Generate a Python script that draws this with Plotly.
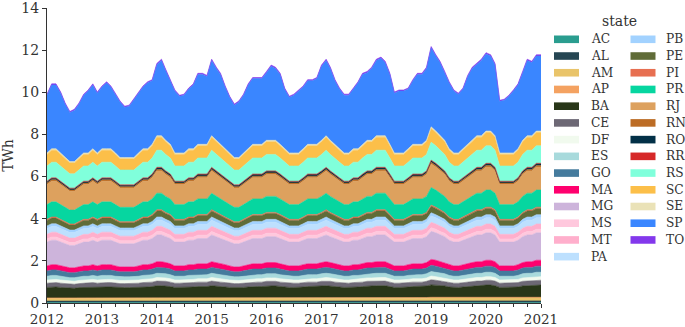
import pandas as pd
import plotly.graph_objects as go

# Monthly timestamps (Jan 2012 .. Jan 2021)
months = pd.date_range("2012-01-01", "2021-01-01", freq="MS")

states = ["AC", "AL", "AM", "AP", "BA", "CE", "DF", "ES", "GO", "MA", "MG", "MS", "MT", "PA",
          "PB", "PE", "PI", "PR", "RJ", "RN", "RO", "RR", "RS", "SC", "SE", "SP", "TO"]

colors = ["#2a9d8f", "#264653", "#e9c46a", "#f4a261", "#283618", "#6d6875", "#f1faee", "#a8dadc",
          "#457b9d", "#ff006e", "#cdb4db", "#ffc8dd", "#ffafcc", "#bde0fe", "#a2d2ff", "#606c38",
          "#e76f51", "#06d6a0", "#dda15e", "#bc6c25", "#023047", "#d62828", "#80ffdb", "#fcbf49",
          "#eae2b7", "#3a86ff", "#8338ec"]

# Consumption (TWh), one value per month
AC = [
    .02, .02, .02, .02, .02, .02, .02, .02, .02, .02, .02, .02,
    .02, .02, .02, .02, .02, .02, .02, .02, .02, .02, .02, .02,
    .02, .02, .02, .02, .02, .02, .02, .02, .02, .02, .02, .02,
    .02, .02, .02, .02, .02, .02, .02, .02, .02, .02, .02, .02,
    .02, .02, .02, .02, .02, .02, .02, .02, .02, .02, .02, .02,
    .02, .02, .02, .02, .02, .02, .02, .02, .02, .02, .02, .02,
    .02, .02, .02, .02, .02, .02, .02, .02, .02, .02, .02, .02,
    .02, .02, .02, .02, .02, .02, .02, .02, .02, .02, .02, .02,
    .02, .02, .02, .02, .02, .02, .02, .02, .02, .02, .02, .02,
    .02]
AL = [
    .07, .07, .07, .07, .07, .07, .07, .07, .07, .07, .07, .07,
    .07, .07, .07, .07, .07, .07, .07, .07, .07, .07, .07, .07,
    .08, .08, .08, .07, .07, .07, .07, .07, .07, .07, .07, .07,
    .08, .08, .07, .07, .07, .07, .07, .07, .07, .07, .07, .07,
    .08, .08, .08, .07, .07, .07, .07, .07, .07, .07, .07, .07,
    .08, .08, .08, .07, .07, .07, .07, .07, .07, .07, .08, .08,
    .08, .08, .08, .07, .07, .07, .07, .07, .07, .07, .07, .08,
    .08, .08, .08, .08, .07, .07, .07, .07, .07, .08, .08, .08,
    .08, .08, .08, .07, .07, .07, .07, .07, .08, .08, .08, .08,
    .08]
AM = [
    .12, .12, .12, .12, .12, .11, .11, .12, .12, .12, .12, .12,
    .12, .12, .12, .12, .12, .12, .12, .12, .12, .12, .12, .13,
    .13, .13, .13, .13, .12, .12, .12, .12, .12, .13, .13, .13,
    .13, .13, .13, .12, .12, .12, .12, .12, .12, .13, .13, .13,
    .13, .13, .13, .13, .12, .12, .12, .12, .12, .13, .13, .13,
    .13, .13, .13, .13, .12, .12, .12, .12, .12, .13, .13, .13,
    .13, .13, .13, .13, .12, .12, .12, .12, .13, .13, .13, .13,
    .14, .14, .13, .13, .12, .12, .12, .12, .13, .13, .13, .13,
    .14, .14, .13, .12, .12, .12, .12, .12, .13, .13, .13, .14,
    .14]
AP = [
    .03, .03, .03, .03, .03, .03, .03, .03, .03, .03, .03, .03,
    .03, .03, .03, .03, .03, .03, .03, .03, .03, .03, .03, .03,
    .03, .03, .03, .03, .03, .03, .03, .03, .03, .03, .03, .03,
    .03, .03, .03, .03, .03, .03, .03, .03, .03, .03, .03, .03,
    .03, .03, .03, .03, .03, .03, .03, .03, .03, .03, .03, .03,
    .03, .03, .03, .03, .03, .03, .03, .03, .03, .03, .03, .03,
    .03, .03, .03, .03, .03, .03, .03, .03, .03, .03, .03, .03,
    .03, .03, .03, .03, .03, .03, .03, .03, .03, .03, .03, .03,
    .03, .03, .03, .03, .03, .03, .03, .03, .03, .03, .03, .03,
    .03]
BA = [
    .50, .52, .52, .50, .49, .47, .47, .49, .50, .50, .52, .50,
    .52, .52, .52, .50, .49, .49, .49, .49, .50, .52, .52, .53,
    .56, .56, .55, .53, .50, .50, .50, .52, .52, .53, .53, .53,
    .56, .55, .53, .52, .50, .49, .49, .50, .52, .53, .53, .53,
    .55, .55, .55, .53, .52, .50, .50, .50, .52, .53, .53, .53,
    .55, .56, .55, .53, .52, .50, .50, .52, .52, .53, .55, .55,
    .56, .56, .56, .53, .50, .50, .50, .52, .53, .53, .53, .55,
    .59, .58, .56, .55, .52, .50, .50, .52, .53, .55, .56, .56,
    .58, .58, .56, .50, .50, .50, .50, .52, .55, .56, .56, .58,
    .58]
CE = [
    .20, .21, .21, .20, .19, .19, .19, .19, .20, .20, .21, .20,
    .21, .21, .21, .20, .19, .19, .19, .19, .20, .21, .21, .21,
    .22, .22, .22, .21, .20, .20, .20, .21, .21, .21, .21, .21,
    .22, .22, .21, .21, .20, .19, .19, .20, .21, .21, .21, .21,
    .22, .22, .22, .21, .21, .20, .20, .20, .21, .21, .21, .21,
    .22, .22, .22, .21, .21, .20, .20, .21, .21, .21, .22, .22,
    .22, .22, .22, .21, .20, .20, .20, .21, .21, .21, .21, .22,
    .24, .23, .22, .22, .21, .20, .20, .21, .21, .22, .22, .22,
    .23, .23, .22, .20, .20, .20, .20, .21, .22, .22, .22, .23,
    .23]
DF = [
    .15, .15, .15, .15, .15, .14, .14, .15, .15, .15, .15, .15,
    .15, .15, .15, .15, .15, .15, .15, .15, .15, .15, .15, .16,
    .17, .17, .16, .16, .15, .15, .15, .15, .15, .16, .16, .16,
    .17, .16, .16, .15, .15, .15, .15, .15, .15, .16, .16, .16,
    .16, .16, .16, .16, .15, .15, .15, .15, .15, .16, .16, .16,
    .16, .17, .16, .16, .15, .15, .15, .15, .15, .16, .16, .16,
    .17, .17, .17, .16, .15, .15, .15, .15, .16, .16, .16, .16,
    .18, .17, .17, .16, .15, .15, .15, .15, .16, .16, .17, .17,
    .17, .17, .17, .15, .15, .15, .15, .15, .16, .17, .17, .17,
    .17]
ES = [
    .18, .19, .19, .18, .17, .17, .17, .17, .18, .18, .19, .18,
    .19, .19, .19, .18, .17, .17, .17, .17, .18, .19, .19, .19,
    .20, .20, .20, .19, .18, .18, .18, .19, .19, .19, .19, .19,
    .20, .20, .19, .19, .18, .17, .17, .18, .19, .19, .19, .19,
    .20, .20, .20, .19, .19, .18, .18, .18, .19, .19, .19, .19,
    .20, .20, .20, .19, .19, .18, .18, .19, .19, .19, .20, .20,
    .20, .20, .20, .19, .18, .18, .18, .19, .19, .19, .19, .20,
    .21, .21, .20, .20, .19, .18, .18, .19, .19, .20, .20, .20,
    .21, .21, .20, .18, .18, .18, .18, .19, .20, .20, .20, .21,
    .21]
GO = [
    .25, .26, .26, .25, .24, .24, .24, .24, .25, .25, .26, .25,
    .26, .26, .26, .25, .24, .24, .24, .24, .25, .26, .26, .27,
    .28, .28, .27, .27, .25, .25, .25, .26, .26, .27, .27, .27,
    .28, .27, .27, .26, .25, .24, .24, .25, .26, .27, .27, .27,
    .27, .27, .27, .27, .26, .25, .25, .25, .26, .27, .27, .27,
    .27, .28, .27, .27, .26, .25, .25, .26, .26, .27, .27, .27,
    .28, .28, .28, .27, .25, .25, .25, .26, .27, .27, .27, .27,
    .30, .29, .28, .27, .26, .25, .25, .26, .27, .27, .28, .28,
    .29, .29, .28, .25, .25, .25, .25, .26, .27, .28, .28, .29,
    .29]
MA = [
    .24, .25, .25, .24, .23, .23, .23, .23, .24, .24, .25, .24,
    .25, .25, .25, .24, .23, .23, .23, .23, .24, .25, .25, .25,
    .27, .27, .26, .25, .24, .24, .24, .25, .25, .25, .25, .25,
    .27, .26, .25, .25, .24, .23, .23, .24, .25, .25, .25, .25,
    .26, .26, .26, .25, .25, .24, .24, .24, .25, .25, .25, .25,
    .26, .27, .26, .25, .25, .24, .24, .25, .25, .25, .26, .26,
    .27, .27, .27, .25, .24, .24, .24, .25, .25, .25, .25, .26,
    .28, .28, .27, .26, .25, .24, .24, .25, .25, .26, .27, .27,
    .28, .28, .27, .24, .24, .24, .24, .25, .26, .27, .27, .28,
    .28]
MG = [
    1.13, 1.16, 1.16, 1.13, 1.10, 1.06, 1.06, 1.10, 1.13, 1.13, 1.16, 1.13,
    1.16, 1.16, 1.16, 1.13, 1.10, 1.10, 1.10, 1.10, 1.13, 1.16, 1.16, 1.20,
    1.27, 1.27, 1.23, 1.20, 1.13, 1.13, 1.13, 1.16, 1.16, 1.20, 1.20, 1.20,
    1.27, 1.23, 1.20, 1.16, 1.13, 1.10, 1.10, 1.13, 1.16, 1.20, 1.20, 1.20,
    1.23, 1.23, 1.23, 1.20, 1.16, 1.13, 1.13, 1.13, 1.16, 1.20, 1.20, 1.20,
    1.23, 1.27, 1.23, 1.20, 1.16, 1.13, 1.13, 1.16, 1.16, 1.20, 1.23, 1.23,
    1.27, 1.27, 1.27, 1.20, 1.13, 1.13, 1.13, 1.16, 1.20, 1.20, 1.20, 1.23,
    1.33, 1.30, 1.27, 1.23, 1.16, 1.13, 1.13, 1.16, 1.20, 1.23, 1.27, 1.27,
    1.30, 1.30, 1.27, 1.13, 1.13, 1.13, 1.13, 1.16, 1.23, 1.27, 1.27, 1.30,
    1.30]
MS = [
    .15, .15, .15, .15, .15, .14, .14, .15, .15, .15, .15, .15,
    .15, .15, .15, .15, .15, .15, .15, .15, .15, .15, .15, .16,
    .16, .16, .16, .16, .15, .15, .15, .15, .15, .16, .16, .16,
    .16, .16, .16, .15, .15, .15, .15, .15, .15, .16, .16, .16,
    .16, .16, .16, .16, .15, .15, .15, .15, .15, .16, .16, .16,
    .16, .16, .16, .16, .15, .15, .15, .15, .15, .16, .16, .16,
    .16, .16, .16, .16, .15, .15, .15, .15, .16, .16, .16, .16,
    .17, .17, .16, .16, .15, .15, .15, .15, .16, .16, .16, .16,
    .17, .17, .16, .15, .15, .15, .15, .15, .16, .16, .16, .17,
    .17]
MT = [
    .22, .23, .23, .22, .21, .21, .21, .21, .22, .22, .23, .22,
    .23, .23, .23, .22, .21, .21, .21, .21, .22, .23, .23, .23,
    .25, .25, .24, .23, .22, .22, .22, .23, .23, .23, .23, .23,
    .25, .24, .23, .23, .22, .21, .21, .22, .23, .23, .23, .23,
    .24, .24, .24, .23, .23, .22, .22, .22, .23, .23, .23, .23,
    .24, .25, .24, .23, .23, .22, .22, .23, .23, .23, .24, .24,
    .25, .25, .25, .23, .22, .22, .22, .23, .23, .23, .23, .24,
    .26, .25, .25, .24, .23, .22, .22, .23, .23, .24, .25, .25,
    .25, .25, .25, .22, .22, .22, .22, .23, .24, .25, .25, .25,
    .25]
PA = [
    .27, .27, .27, .27, .26, .26, .26, .26, .27, .27, .27, .27,
    .27, .27, .27, .27, .26, .26, .26, .26, .27, .27, .27, .28,
    .29, .29, .28, .28, .27, .27, .27, .27, .27, .28, .28, .28,
    .29, .28, .28, .27, .27, .26, .26, .27, .27, .28, .28, .28,
    .28, .28, .28, .28, .27, .27, .27, .27, .27, .28, .28, .28,
    .28, .29, .28, .28, .27, .27, .27, .27, .27, .28, .28, .28,
    .29, .29, .29, .28, .27, .27, .27, .27, .28, .28, .28, .28,
    .30, .29, .29, .28, .27, .27, .27, .27, .28, .28, .29, .29,
    .29, .29, .29, .27, .27, .27, .27, .27, .28, .29, .29, .29,
    .29]
PB = [
    .13, .13, .13, .13, .13, .12, .12, .13, .13, .13, .13, .13,
    .13, .13, .13, .13, .13, .13, .13, .13, .13, .13, .13, .14,
    .15, .15, .14, .14, .13, .13, .13, .13, .13, .14, .14, .14,
    .15, .14, .14, .13, .13, .13, .13, .13, .13, .14, .14, .14,
    .14, .14, .14, .14, .13, .13, .13, .13, .13, .14, .14, .14,
    .14, .15, .14, .14, .13, .13, .13, .13, .13, .14, .14, .14,
    .15, .15, .15, .14, .13, .13, .13, .13, .14, .14, .14, .14,
    .15, .15, .15, .14, .13, .13, .13, .13, .14, .14, .15, .15,
    .15, .15, .15, .13, .13, .13, .13, .13, .14, .15, .15, .15,
    .15]
PE = [
    .26, .27, .27, .26, .25, .24, .24, .25, .26, .26, .27, .26,
    .27, .27, .27, .26, .25, .25, .25, .25, .26, .27, .27, .28,
    .29, .29, .28, .28, .26, .26, .26, .27, .27, .28, .28, .28,
    .29, .28, .28, .27, .26, .25, .25, .26, .27, .28, .28, .28,
    .28, .28, .28, .28, .27, .26, .26, .26, .27, .28, .28, .28,
    .28, .29, .28, .28, .27, .26, .26, .27, .27, .28, .28, .28,
    .29, .29, .29, .28, .26, .26, .26, .27, .28, .28, .28, .28,
    .31, .30, .29, .28, .27, .26, .26, .27, .28, .28, .29, .29,
    .30, .30, .29, .26, .26, .26, .26, .27, .28, .29, .29, .30,
    .30]
PI = [
    .05, .05, .05, .05, .05, .05, .05, .05, .05, .05, .05, .05,
    .05, .05, .05, .05, .05, .05, .05, .05, .05, .05, .05, .05,
    .06, .06, .05, .05, .05, .05, .05, .05, .05, .05, .05, .05,
    .06, .05, .05, .05, .05, .05, .05, .05, .05, .05, .05, .05,
    .05, .05, .05, .05, .05, .05, .05, .05, .05, .05, .05, .05,
    .05, .06, .05, .05, .05, .05, .05, .05, .05, .05, .05, .05,
    .06, .06, .06, .05, .05, .05, .05, .05, .05, .05, .05, .05,
    .06, .06, .06, .05, .05, .05, .05, .05, .05, .05, .06, .06,
    .06, .06, .06, .05, .05, .05, .05, .05, .05, .06, .06, .06,
    .06]
PR = [
    .70, .72, .72, .70, .68, .66, .66, .68, .70, .70, .72, .70,
    .72, .72, .72, .70, .68, .68, .68, .68, .70, .72, .72, .74,
    .78, .78, .76, .74, .70, .70, .70, .72, .72, .74, .74, .74,
    .78, .76, .74, .72, .70, .68, .68, .70, .72, .74, .74, .74,
    .76, .76, .76, .74, .72, .70, .70, .70, .72, .74, .74, .74,
    .76, .78, .76, .74, .72, .70, .70, .72, .72, .74, .76, .76,
    .78, .78, .78, .74, .70, .70, .70, .72, .74, .74, .74, .76,
    .83, .81, .78, .76, .72, .70, .70, .72, .74, .76, .78, .78,
    .81, .81, .78, .70, .70, .70, .70, .72, .76, .78, .78, .81,
    .81]
RJ = [
    .95, .98, .98, .95, .92, .89, .89, .92, .95, .95, .98, .95,
    .98, .98, .98, .95, .92, .92, .92, .92, .95, .98, .98, 1.01,
    1.06, 1.06, 1.04, 1.01, .95, .95, .95, .98, .98, 1.01, 1.01, 1.01,
    1.06, 1.04, 1.01, .98, .95, .92, .92, .95, .98, 1.01, 1.01, 1.01,
    1.04, 1.04, 1.04, 1.01, .98, .95, .95, .95, .98, 1.01, 1.01, 1.01,
    1.04, 1.06, 1.04, 1.01, .98, .95, .95, .98, .98, 1.01, 1.04, 1.04,
    1.06, 1.06, 1.06, 1.01, .95, .95, .95, .98, 1.01, 1.01, 1.01, 1.04,
    1.12, 1.09, 1.06, 1.04, .98, .95, .95, .98, 1.01, 1.04, 1.06, 1.06,
    1.09, 1.09, 1.06, .95, .95, .95, .95, .98, 1.04, 1.06, 1.06, 1.09,
    1.09]
RN = [
    .07, .07, .07, .07, .06, .06, .06, .06, .07, .07, .07, .07,
    .07, .07, .07, .07, .06, .06, .06, .06, .07, .07, .07, .07,
    .07, .07, .07, .07, .07, .07, .07, .07, .07, .07, .07, .07,
    .07, .07, .07, .07, .07, .06, .06, .07, .07, .07, .07, .07,
    .07, .07, .07, .07, .07, .07, .07, .07, .07, .07, .07, .07,
    .07, .07, .07, .07, .07, .07, .07, .07, .07, .07, .07, .07,
    .07, .07, .07, .07, .07, .07, .07, .07, .07, .07, .07, .07,
    .08, .08, .07, .07, .07, .07, .07, .07, .07, .07, .07, .07,
    .08, .08, .07, .07, .07, .07, .07, .07, .07, .07, .07, .08,
    .08]
RO = [
    .07, .07, .07, .07, .07, .07, .07, .07, .07, .07, .07, .07,
    .07, .07, .07, .07, .07, .07, .07, .07, .07, .07, .07, .08,
    .08, .08, .08, .08, .07, .07, .07, .07, .07, .08, .08, .08,
    .08, .08, .08, .07, .07, .07, .07, .07, .07, .08, .08, .08,
    .08, .08, .08, .08, .07, .07, .07, .07, .07, .08, .08, .08,
    .08, .08, .08, .08, .07, .07, .07, .07, .07, .08, .08, .08,
    .08, .08, .08, .08, .07, .07, .07, .07, .08, .08, .08, .08,
    .08, .08, .08, .08, .07, .07, .07, .07, .08, .08, .08, .08,
    .08, .08, .08, .07, .07, .07, .07, .07, .08, .08, .08, .08,
    .08]
RR = [
    .02, .02, .02, .02, .02, .02, .02, .02, .02, .02, .02, .02,
    .02, .02, .02, .02, .02, .02, .02, .02, .02, .02, .02, .02,
    .02, .02, .02, .02, .02, .02, .02, .02, .02, .02, .02, .02,
    .02, .02, .02, .02, .02, .02, .02, .02, .02, .02, .02, .02,
    .02, .02, .02, .02, .02, .02, .02, .02, .02, .02, .02, .02,
    .02, .02, .02, .02, .02, .02, .02, .02, .02, .02, .02, .02,
    .02, .02, .02, .02, .02, .02, .02, .02, .02, .02, .02, .02,
    .02, .02, .02, .02, .02, .02, .02, .02, .02, .02, .02, .02,
    .02, .02, .02, .02, .02, .02, .02, .02, .02, .02, .02, .02,
    .02]
RS = [
    .72, .74, .74, .72, .70, .68, .68, .70, .72, .72, .74, .72,
    .74, .74, .74, .72, .70, .70, .70, .70, .72, .74, .74, .76,
    .81, .81, .78, .76, .72, .72, .72, .74, .74, .76, .76, .76,
    .81, .78, .76, .74, .72, .70, .70, .72, .74, .76, .76, .76,
    .78, .78, .78, .76, .74, .72, .72, .72, .74, .76, .76, .76,
    .78, .81, .78, .76, .74, .72, .72, .74, .74, .76, .78, .78,
    .81, .81, .81, .76, .72, .72, .72, .74, .76, .76, .76, .78,
    .85, .83, .81, .78, .74, .72, .72, .74, .76, .78, .81, .81,
    .83, .83, .81, .72, .72, .72, .72, .74, .78, .81, .81, .83,
    .83]
SC = [
    .55, .57, .57, .55, .53, .52, .52, .53, .55, .55, .57, .55,
    .57, .57, .57, .55, .53, .53, .53, .53, .55, .57, .57, .58,
    .62, .62, .60, .58, .55, .55, .55, .57, .57, .58, .58, .58,
    .62, .60, .58, .57, .55, .53, .53, .55, .57, .58, .58, .58,
    .60, .60, .60, .58, .57, .55, .55, .55, .57, .58, .58, .58,
    .60, .62, .60, .58, .57, .55, .55, .57, .57, .58, .60, .60,
    .62, .62, .62, .58, .55, .55, .55, .57, .58, .58, .58, .60,
    .65, .63, .62, .60, .57, .55, .55, .57, .58, .60, .62, .62,
    .63, .63, .62, .55, .55, .55, .55, .57, .60, .62, .62, .63,
    .63]
SE = [
    .07, .07, .07, .07, .06, .06, .06, .06, .07, .07, .07, .07,
    .07, .07, .07, .07, .06, .06, .06, .06, .07, .07, .07, .07,
    .07, .07, .07, .07, .07, .07, .07, .07, .07, .07, .07, .07,
    .07, .07, .07, .07, .07, .06, .06, .07, .07, .07, .07, .07,
    .07, .07, .07, .07, .07, .07, .07, .07, .07, .07, .07, .07,
    .07, .07, .07, .07, .07, .07, .07, .07, .07, .07, .07, .07,
    .07, .07, .07, .07, .07, .07, .07, .07, .07, .07, .07, .07,
    .08, .07, .07, .07, .07, .07, .07, .07, .07, .07, .07, .07,
    .07, .07, .07, .07, .07, .07, .07, .07, .07, .07, .07, .07,
    .07]
SP = [
    2.74, 3.03, 3.03, 2.84, 2.54, 2.33, 2.43, 2.54, 2.74, 2.94, 3.03, 2.84,
    2.93, 3.13, 2.93, 2.74, 2.64, 2.39, 2.44, 2.74, 2.84, 2.93, 3.13, 3.02,
    3.37, 3.57, 3.31, 3.02, 2.94, 2.69, 2.74, 2.83, 3.03, 3.32, 3.32, 3.22,
    3.57, 3.41, 3.32, 2.93, 2.64, 2.49, 2.64, 2.74, 3.03, 3.12, 3.12, 3.12,
    3.21, 3.51, 3.41, 3.32, 2.83, 2.64, 2.74, 2.94, 2.93, 3.02, 3.02, 3.12,
    3.51, 3.57, 3.41, 3.02, 2.83, 2.74, 2.74, 2.83, 3.13, 3.32, 3.21, 3.41,
    3.57, 3.67, 3.47, 3.32, 2.84, 2.94, 2.94, 2.83, 3.02, 3.32, 3.32, 3.41,
    3.75, 3.56, 3.47, 3.21, 3.13, 2.94, 2.79, 2.83, 3.22, 3.41, 3.37, 3.57,
    3.66, 3.56, 3.37, 2.45, 2.50, 2.69, 2.94, 3.03, 3.21, 3.57, 3.47, 3.56,
    3.56]
TO = [
    .05, .05, .05, .05, .05, .05, .05, .05, .05, .05, .05, .05,
    .05, .05, .05, .05, .05, .05, .05, .05, .05, .05, .05, .05,
    .06, .06, .06, .05, .05, .05, .05, .05, .05, .05, .05, .05,
    .06, .06, .05, .05, .05, .05, .05, .05, .05, .05, .05, .05,
    .06, .06, .06, .05, .05, .05, .05, .05, .05, .05, .05, .05,
    .06, .06, .06, .05, .05, .05, .05, .05, .05, .05, .06, .06,
    .06, .06, .06, .05, .05, .05, .05, .05, .05, .05, .05, .06,
    .06, .06, .06, .06, .05, .05, .05, .05, .05, .06, .06, .06,
    .06, .06, .06, .05, .05, .05, .05, .05, .06, .06, .06, .06,
    .06]

values = {"AC": AC, "AL": AL, "AM": AM, "AP": AP, "BA": BA, "CE": CE, "DF": DF, "ES": ES,
          "GO": GO, "MA": MA, "MG": MG, "MS": MS, "MT": MT, "PA": PA, "PB": PB, "PE": PE,
          "PI": PI, "PR": PR, "RJ": RJ, "RN": RN, "RO": RO, "RR": RR, "RS": RS, "SC": SC,
          "SE": SE, "SP": SP, "TO": TO}

year_ticks = [str(y) for y in range(2012, 2022)]

FONT = "DejaVu Serif"
TXT = "#333333"

fig = go.Figure()
for st, col in zip(states, colors):
    fig.add_trace(go.Scatter(
        x=months, y=values[st], name=st, stackgroup="one", mode="lines",
        line=dict(width=0.6, color=col), fillcolor=col, showlegend=False,
        hovertemplate=st + ": %{y:.2f} TWh<extra></extra>"))

# ---- manual two-column legend (layout only) ----
W_PLOT, H_PLOT, L, T_ = 494, 295, 47, 8
def px2x(px):
    return (px - L) / W_PLOT
def py2y(py):
    return (T_ + H_PLOT - py) / H_PLOT

shapes, annotations = [], []
row_h = 16.72
first_col = 14
for i, (st, col) in enumerate(zip(states, colors)):
    c = 0 if i < first_col else 1
    r = i if i < first_col else i - first_col
    cy = 39.3 + r * row_h
    sx = 554 if c == 0 else 630.5
    tx = 588.5 if c == 0 else 664
    shapes.append(dict(type="rect", xref="paper", yref="paper",
                       x0=px2x(sx), x1=px2x(sx + 25), y0=py2y(cy + 3.8), y1=py2y(cy - 3.8),
                       fillcolor=col, line=dict(width=0), layer="above"))
    annotations.append(dict(xref="paper", yref="paper", x=px2x(tx), y=py2y(cy),
                            xanchor="left", yanchor="middle", text=st, showarrow=False,
                            font=dict(family=FONT, size=12.2, color=TXT)))
annotations.append(dict(xref="paper", yref="paper", x=px2x(619.5), y=py2y(21.5),
                        xanchor="center", yanchor="middle", text="state", showarrow=False,
                        font=dict(family=FONT, size=14, color=TXT)))

fig.update_layout(
    width=685, height=327,
    margin=dict(l=L, r=685 - L - W_PLOT, t=T_, b=327 - T_ - H_PLOT, autoexpand=False),
    paper_bgcolor="white", plot_bgcolor="white",
    font=dict(family=FONT, size=14, color=TXT),
    shapes=shapes, annotations=annotations,
    xaxis=dict(range=["2012-01-01", "2021-01-01"], automargin=False,
               tickvals=[f"{y}-01-01" for y in year_ticks], ticktext=year_ticks,
               ticks="outside", ticklen=4, tickwidth=1, tickcolor="#333",
               ticklabeloverflow="allow",
               showline=True, linecolor="#333", linewidth=1, showgrid=False, zeroline=False,
               minor=dict(dtick="M3", tick0="2012-01-01", ticks="outside", ticklen=3,
                          tickcolor="#333", showgrid=False),
               tickfont=dict(family=FONT, size=13.5, color=TXT)),
    yaxis=dict(range=[0, 14], dtick=2, ticks="outside", ticklen=4, tickcolor="#333",
               automargin=False, ticklabeloverflow="allow",
               showline=True, linecolor="#333", linewidth=1, showgrid=False, zeroline=False,
               title=dict(text="TWh", font=dict(family=FONT, size=14, color=TXT), standoff=8),
               tickfont=dict(family=FONT, size=14, color=TXT)),
)

fig.write_html("out.html", config={"displayModeBar": False},
               post_script="document.body.style.margin='0';document.body.style.overflow='hidden';")
